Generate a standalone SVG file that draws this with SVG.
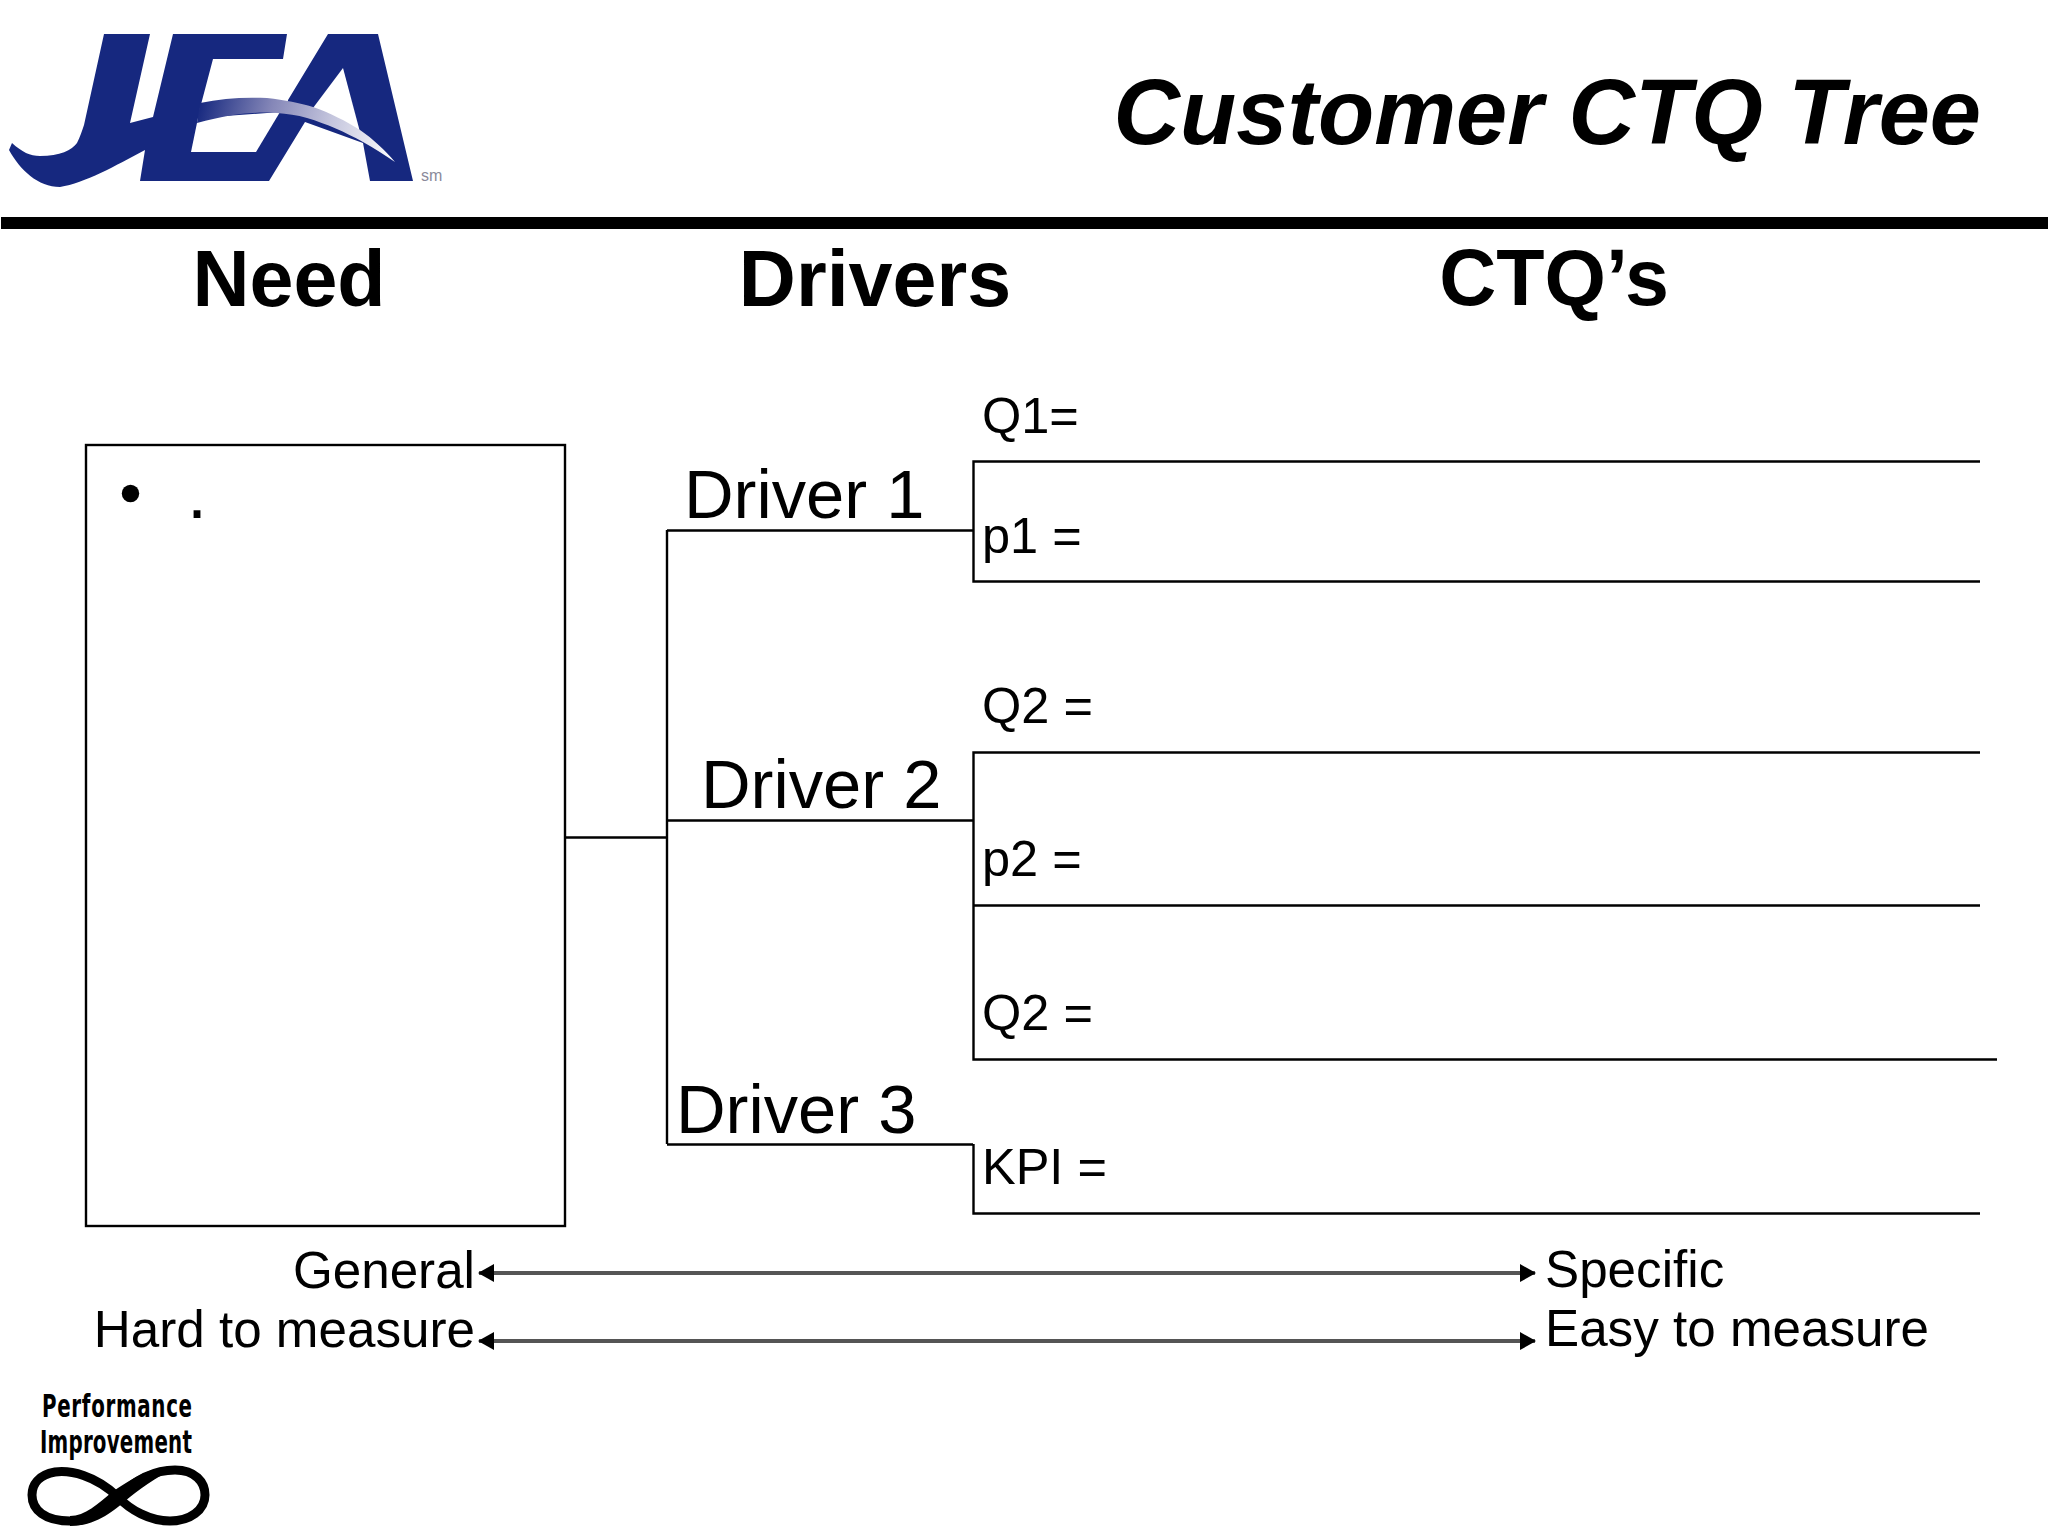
<svg xmlns="http://www.w3.org/2000/svg" width="2048" height="1536" viewBox="0 0 2048 1536">
<defs>
<linearGradient id="swoosh" gradientUnits="userSpaceOnUse" x1="197" y1="110" x2="395" y2="160"><stop offset="0" stop-color="#16287f"/><stop offset="0.35" stop-color="#8587b8"/><stop offset="0.65" stop-color="#c4c5dd"/><stop offset="1" stop-color="#ffffff"/></linearGradient>
<marker id="arrow" viewBox="0 0 16 18" refX="15" refY="9" markerWidth="16" markerHeight="18" markerUnits="userSpaceOnUse" orient="auto-start-reverse"><path d="M0 0L16 9L0 18Z" fill="#000"/></marker>
</defs>
<style>
text{font-family:"Liberation Sans",Arial,sans-serif;fill:#000}
.h{font-size:79px;font-weight:bold}
.d{font-size:68.700px}
.q{font-size:50.500px}
.b{font-size:51.200px}
.l{fill:none;stroke:#000;stroke-width:2.400px}
.a{fill:none;stroke:#555;stroke-width:4px;marker-start:url(#arrow);marker-end:url(#arrow)}
.w{fill:#fff}
</style>
<rect width="2048" height="1536" fill="#fff"/>
<g id="logo">
<path fill="#16287f" d="M104 34H150L130 123L153 117L173 34H378L413 181H370L363 143L305 122L269 181H140L145 150C115 166 85 183 60 187C38 187 20 170 9 150L12 143C22 152 30 156 40 156C60 156 72 150 77 143C80 137 82 131 84 125Z"/>
<path class="w" d="M213 59H283L287 34H328L288 100L286 112H199Z"/>
<path class="w" d="M198 118L280 112L256 152H191Z"/>
<path class="w" d="M343 68L310 112L360 132Z"/>
<path fill="url(#swoosh)" d="M200 103C222 98 245 97 267 98C285 100 300 103 313 107C330 113 346 121 360 130C373 139 385 150 395 162C385 155 375 149 363 142C345 132 327 124 307 118C297 115 287 114 277 113C262 112 247 113 233 115C220 117 208 120 197 123Z"/>
<text x="421" y="181" style="font-size:16px;fill:#8a8a9a">sm</text>
</g>
<text id="title" x="1981" y="144" text-anchor="end" style="font-size:92px;font-weight:bold;font-style:italic">Customer CTQ Tree</text>
<rect id="rule" x="1" y="217" width="2047" height="12" fill="#000"/>
<g id="headers">
<text class="h" x="289" y="306" text-anchor="middle">Need</text>
<text class="h" x="875" y="306" text-anchor="middle">Drivers</text>
<text class="h" x="1554" y="305" text-anchor="middle">CTQ’s</text>
</g>
<g id="need">
<rect class="l" x="86" y="445" width="479" height="781"/>
<circle cx="130.500" cy="493.500" r="8.700" fill="#000"/>
<text x="187" y="518" style="font-size:72px">.</text>
</g>
<g id="connectors">
<path class="l" d="M565 837.500H667M667 530V1144M667 530.500H973M667 820.500H973M667 1144.500H973"/>
<path class="l" d="M1980 461.500H973.500V581.500H1980M1980 752.500H973.500V1059.500H1997M973.500 905.500H1980M973.500 1144V1213.500H1980"/>
<path class="a" d="M479 1273H1535"/>
<path class="a" d="M479 1341H1535"/>
</g>
<g id="driver1"><text class="d" x="684" y="518">Driver 1</text></g>
<g id="driver2"><text class="d" x="701" y="808">Driver 2</text></g>
<g id="driver3"><text class="d" x="676" y="1133">Driver 3</text></g>
<g id="ctqs">
<text class="q" x="982" y="433">Q1=</text>
<text class="q" x="982" y="553">p1 =</text>
<text class="q" x="982" y="723">Q2 =</text>
<text class="q" x="982" y="876">p2 =</text>
<text class="q" x="982" y="1030">Q2 =</text>
<text class="q" x="982" y="1184">KPI =</text>
</g>
<g id="scale">
<text class="b" x="475" y="1288" text-anchor="end">General</text>
<text class="b" x="475" y="1347" text-anchor="end">Hard to measure</text>
<text class="b" x="1545" y="1287">Specific</text>
<text class="b" x="1545" y="1346">Easy to measure</text>
</g>
<g id="pi-logo">
<text transform="translate(42 1417) scale(.62 1)" style="font-family:'DejaVu Sans',sans-serif;font-weight:bold;font-size:32px" textLength="242" lengthAdjust="spacing">Performance</text>
<text transform="translate(40 1453) scale(.62 1)" style="font-family:'DejaVu Sans',sans-serif;font-weight:bold;font-size:32px" textLength="245" lengthAdjust="spacing">Improvement</text>
<path fill="none" stroke="#000" stroke-width="9" d="M118 1497C95 1475 70 1470 55 1472C38 1475 32 1485 32 1495C32 1510 45 1521 70 1521C90 1521 105 1510 118 1497C135 1480 155 1470 175 1470C195 1470 205 1482 205 1495C205 1510 190 1521 170 1521C150 1521 130 1510 118 1497Z"/>
<path fill="#000" d="M70 1526C95 1526 112 1512 124 1502C138 1490 155 1478 178 1466C150 1466 130 1480 112 1492C98 1504 85 1516 70 1516Z"/>
</g>
</svg>
